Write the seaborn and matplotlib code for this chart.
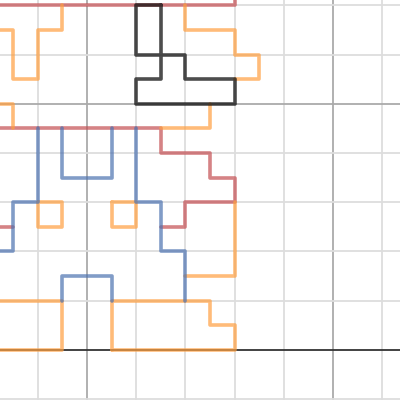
import matplotlib
matplotlib.use("Agg")
import matplotlib.pyplot as plt
import seaborn as sns
import pandas as pd

sns.set_theme(style="white")

# outline paths (grid units), grouped by colour
red_paths = [
    ([-2, 3, 3], [7, 7, 7.5]),
    ([-2, 1.5, 1.5, 2.5, 2.5, 3, 3, 2, 2, 1.5], [4.5, 4.5, 4, 4, 3.5, 3.5, 3, 3, 2.5, 2.5]),
    ([-2, -1.5], [2.5, 2.5]),
]
black_paths = [
    ([1.5, 1, 1, 2, 2, 3, 3, 1, 1, 1.5, 1.5], [7, 7, 6, 6, 5.5, 5.5, 5, 5, 5.5, 5.5, 7]),
]
orange_paths = [
    ([-2, -1.5, -1.5, -1, -1, -0.5, -0.5], [6.5, 6.5, 5.5, 5.5, 6.5, 6.5, 7]),
    ([2, 2, 3, 3, 3.5, 3.5, 3], [7, 6.5, 6.5, 6, 6, 5.5, 5.5]),
    ([2.5, 2.5, 1.5], [5, 4.5, 4.5]),
    ([-2, -1.5, -1.5], [5, 5, 4.5]),
    ([-1, -0.5, -0.5, -1, -1], [3, 3, 2.5, 2.5, 3]),
    ([0.5, 1, 1, 0.5, 0.5], [3, 3, 2.5, 2.5, 3]),
    ([3, 3, 2], [3, 1.5, 1.5]),
    ([-2, -0.5, -0.5, -2], [1, 1, 0, 0]),
    ([0.5, 0.5, 2.5, 2.5, 3, 3, 0.5], [0, 1, 1, 0.5, 0.5, 0, 0]),
]
blue_paths = [
    ([-1, -1, -1.5, -1.5, -2], [4.5, 3, 3, 2, 2]),
    ([-0.5, -0.5, 0.5, 0.5], [4.5, 3.5, 3.5, 4.5]),
    ([1, 1, 1.5, 1.5, 2, 2], [4.5, 3, 3, 2, 2, 1]),
    ([-0.5, -0.5, 0.5, 0.5], [1, 1.5, 1.5, 1]),
]

groups = {"red": red_paths, "orange": orange_paths, "blue": blue_paths, "black": black_paths}
colors = {"red": "#c44e52", "orange": "#ff9f40", "blue": "#4c72b0", "black": "#111111"}

rows = []
seg = 0
for name, paths in groups.items():
    for xs, ys in paths:
        for i, (x, y) in enumerate(zip(xs, ys)):
            rows.append({"x": x, "y": y, "seg": seg, "order": i, "c": name})
        seg += 1
df = pd.DataFrame(rows)

fig = plt.figure(figsize=(4, 4), dpi=100)
ax = fig.add_axes([0, 0, 1, 1])

for v in range(-1, 7):
    ax.axvline(v, color="#aaaaaa" if v % 5 == 0 else "#dddddd", lw=1.3, zorder=0)
for h in range(-1, 8):
    if h == 0:
        continue
    ax.axhline(h, color="#aaaaaa" if h % 5 == 0 else "#dddddd", lw=1.3, zorder=0)
ax.axhline(0, color="#333333", lw=1.3, zorder=1)

for name in groups:
    sub = df[df.c == name]
    sns.lineplot(data=sub, x="x", y="y", units="seg", estimator=None, sort=False,
                 color=colors[name], alpha=0.7 if name != "black" else 0.75,
                 lw=2.6, ax=ax, legend=False, zorder=2 if name != "black" else 3)

ax.set_xlim(-1.77, 6.36)
ax.set_ylim(-1.02, 7.11)
ax.set_xticks([]); ax.set_yticks([])
ax.set_xlabel(""); ax.set_ylabel("")
for s in ax.spines.values():
    s.set_visible(False)
fig.savefig("out.png", dpi=100)
